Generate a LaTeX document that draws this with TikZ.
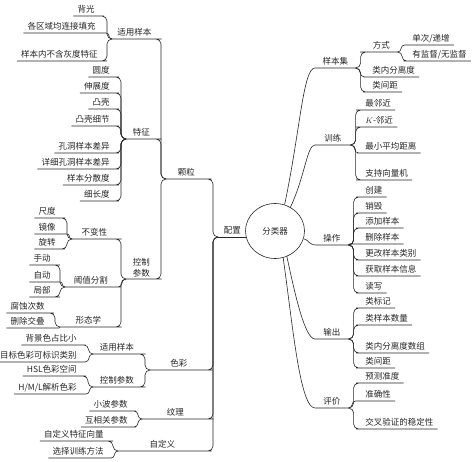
\documentclass[tikz,border=0pt]{standalone}
\usepackage{fontspec}
\newfontfamily\cjk{Noto Sans CJK SC}
\usetikzlibrary{calc,shapes.geometric}
\begin{document}
\begin{tikzpicture}[x=1pt,y=-1pt,line width=0.6pt,color=black!85,
  font=\cjk\fontsize{8.5}{10.5}\selectfont,
  nd/.style={inner xsep=4pt,inner ysep=1.5pt},
  ln/.style={nd,text height=7pt,text depth=1.5pt},
  lf/.style={ln,anchor=south east},
  rf/.style={ln,anchor=south west},
  hub/.style={ln,anchor=south west,minimum width=#1},
  tol/.style={to path={let \p1=(\tikztostart),\p2=(\tikztotarget),
    \n1={min(5pt,abs(\y2-(\y1))/2)} in
    [rounded corners=\n1] -- (\x1-\n1,\y1) -- (\x1-\n1,\y2) -- (\tikztotarget)}},
  tor/.style={to path={let \p1=(\tikztostart),\p2=(\tikztotarget),
    \n1={min(5pt,abs(\y2-(\y1))/2)} in
    [rounded corners=\n1] -- (\x1+\n1,\y1) -- (\x1+\n1,\y2) -- (\tikztotarget)}}]
  \useasboundingbox (0,0) rectangle (474,462);

  % centre
  \node[ellipse,draw,minimum width=59,minimum height=55,inner sep=0] (fenlei) at (275,231) {分类器};
  \node[hub=28] (peizhi) at (218,237) {配置};

  % left: 颗粒
  \node[hub=40] (keli) at (166,179) {颗粒};
  \node[hub=44] (kl-syyb) at (112,39) {适用样本};
  \node[lf] (kl-bg) at (99,16) {背光};
  \node[lf] (kl-qy) at (100,33) {各区域均连接填充};
  \node[lf] (kl-hd) at (102,61) {样本内不含灰度特征};
  \node[hub=30] (tz) at (126,139) {特征};
  \node[lf] (tz-yd) at (114,77) {圆度};
  \node[lf] (tz-szd) at (114,93) {伸展度};
  \node[lf] (tz-tk) at (114,109) {凸壳};
  \node[lf] (tz-tkxj) at (114,126) {凸壳细节};
  \node[lf] (tz-kd) at (114,153) {孔洞样本差异};
  \node[lf] (tz-xxkd) at (114,169) {详细孔洞样本差异};
  \node[lf] (tz-fsd) at (114,185) {样本分散度};
  \node[lf] (tz-xcd) at (114,201) {细长度};
  \node[nd,align=center,anchor=south west,minimum width=30] (kzcs) at (126,279) {控制\\参数};
  \node[hub=44] (bbx) at (72,239) {不变性};
  \node[lf] (bbx-cd) at (60,218) {尺度};
  \node[lf] (bbx-jx) at (60,234) {镜像};
  \node[lf] (bbx-xz) at (60,249) {旋转};
  \node[hub=51] (yzfg) at (65,287) {阈值分割};
  \node[lf] (yz-sd) at (55,265) {手动};
  \node[lf] (yz-zd) at (55,282) {自动};
  \node[lf] (yz-jb) at (55,297) {局部};
  \node[hub=56] (xtx) at (60,327) {形态学};
  \node[lf] (xt-fs) at (49,313) {腐蚀次数};
  \node[lf] (xt-sc) at (49,328) {删除交叠};

  % left: 色彩, 纹理, 自定义
  \node[hub=57] (secai) at (150,370) {色彩};
  \node[hub=47] (sc-syyb) at (93,354) {适用样本};
  \node[lf] (sc-bj) at (81,345) {背景色占比小};
  \node[lf] (sc-mb) at (81,362) {目标色彩可标识类别};
  \node[hub=47] (sc-kzcs) at (93,387) {控制参数};
  \node[lf] (sc-hsl) at (81,376) {HSL色彩空间};
  \node[lf] (sc-hml) at (81,394) {H/M/L解析色彩};
  \node[hub=66] (wenli) at (142,419) {纹理};
  \node[lf] (wl-xb) at (132,411) {小波参数};
  \node[lf] (wl-hx) at (132,427) {互相关参数};
  \node[hub=88] (zdy) at (118,451) {自定义};
  \node[lf] (zd-tz) at (108,441) {自定义特征向量};
  \node[lf] (zd-xz) at (108,458) {选择训练方法};

  % right
  \node[hub=40] (ybj) at (315,68) {样本集};
  \node[hub=32] (fs) at (365,52) {方式};
  \node[rf] (fs-dc) at (408,45) {单次/递增};
  \node[rf] (fs-jd) at (408,61) {有监督/无监督};
  \node[rf] (ybj-nf) at (368,77) {类内分离度};
  \node[rf] (ybj-jj) at (368,92) {类间距};
  \node[hub=35] (xl) at (315,145) {训练};
  \node[rf] (xl-zlj) at (361,110) {最邻近};
  \node[rf] (xl-klj) at (361,127) {$K$-邻近};
  \node[rf] (xl-pj) at (361,153) {最小平均距离};
  \node[rf] (xl-svm) at (361,180) {支持向量机};
  \node[hub=33] (cz) at (315,245) {操作};
  \node[rf] (cz-cj) at (361,197) {创建};
  \node[rf] (cz-xh) at (361,213) {销毁};
  \node[rf] (cz-tj) at (361,228) {添加样本};
  \node[rf] (cz-sc) at (361,244) {删除样本};
  \node[rf] (cz-gg) at (361,260) {更改样本类别};
  \node[rf] (cz-hq) at (361,276) {获取样本信息};
  \node[rf] (cz-dx) at (361,293) {读写};
  \node[hub=33] (shuchu) at (315,339) {输出};
  \node[rf] (out-bj) at (361,308) {类标记};
  \node[rf] (out-sl) at (361,325) {类样本数量};
  \node[rf] (out-fl) at (361,353) {类内分离度数组};
  \node[rf] (out-jj) at (361,368) {类间距};
  \node[hub=33] (pingjia) at (315,408) {评价};
  \node[rf] (pj-zd) at (361,383) {预测准度};
  \node[rf] (pj-zq) at (361,401) {准确性};
  \node[rf] (pj-wd) at (361,429) {交叉验证的稳定性};

  % connectors, left
  \draw (peizhi.south west) -- (peizhi.south east);
  \foreach \c in {keli,secai,wenli,zdy}
    \draw (peizhi.south west) to[tol] (\c.south east) -- (\c.south west);
  \foreach \c in {kl-syyb,tz,kzcs}
    \draw (keli.south west) to[tol] (\c.south east) -- (\c.south west);
  \foreach \c in {kl-bg,kl-qy,kl-hd}
    \draw (kl-syyb.south west) to[tol] (\c.south east) -- (\c.south west);
  \foreach \c in {tz-yd,tz-szd,tz-tk,tz-tkxj,tz-kd,tz-xxkd,tz-fsd,tz-xcd}
    \draw (tz.south west) to[tol] (\c.south east) -- (\c.south west);
  \foreach \c in {bbx,yzfg,xtx}
    \draw (kzcs.south west) to[tol] (\c.south east) -- (\c.south west);
  \foreach \c in {bbx-cd,bbx-jx,bbx-xz}
    \draw (bbx.south west) to[tol] (\c.south east) -- (\c.south west);
  \foreach \c in {yz-sd,yz-zd,yz-jb}
    \draw (yzfg.south west) to[tol] (\c.south east) -- (\c.south west);
  \foreach \c in {xt-fs,xt-sc}
    \draw (xtx.south west) to[tol] (\c.south east) -- (\c.south west);
  \foreach \c in {sc-syyb,sc-kzcs}
    \draw (secai.south west) to[tol] (\c.south east) -- (\c.south west);
  \foreach \c in {sc-bj,sc-mb}
    \draw (sc-syyb.south west) to[tol] (\c.south east) -- (\c.south west);
  \foreach \c in {sc-hsl,sc-hml}
    \draw (sc-kzcs.south west) to[tol] (\c.south east) -- (\c.south west);
  \foreach \c in {wl-xb,wl-hx}
    \draw (wenli.south west) to[tol] (\c.south east) -- (\c.south west);
  \foreach \c in {zd-tz,zd-xz}
    \draw (zdy.south west) to[tol] (\c.south east) -- (\c.south west);

  % connectors, right
  \draw (fenlei.70) .. controls +(78:75pt) and +(-12,0) .. (ybj.south west) -- (ybj.south east);
  \draw (fenlei.57) .. controls +(65:35pt) and +(-8,0) .. (xl.south west) -- (xl.south east);
  \draw (fenlei.-15) to[out=-15,in=180] (cz.south west) -- (cz.south east);
  \draw (fenlei.-65) .. controls +(-78:40pt) and +(-10,0) .. (shuchu.south west) -- (shuchu.south east);
  \draw (fenlei.-73) .. controls +(-82:70pt) and +(-15,0) .. (pingjia.south west) -- (pingjia.south east);
  \foreach \c in {fs,ybj-nf,ybj-jj}
    \draw (ybj.south east) to[tor] (\c.south west) -- (\c.south east);
  \foreach \c in {fs-dc,fs-jd}
    \draw (fs.south east) to[tor] (\c.south west) -- (\c.south east);
  \foreach \c in {xl-zlj,xl-klj,xl-pj,xl-svm}
    \draw (xl.south east) to[tor] (\c.south west) -- (\c.south east);
  \foreach \c in {cz-cj,cz-xh,cz-tj,cz-sc,cz-gg,cz-hq,cz-dx}
    \draw (cz.south east) to[tor] (\c.south west) -- (\c.south east);
  \foreach \c in {out-bj,out-sl,out-fl,out-jj}
    \draw (shuchu.south east) to[tor] (\c.south west) -- (\c.south east);
  \foreach \c in {pj-zd,pj-zq,pj-wd}
    \draw (pingjia.south east) to[tor] (\c.south west) -- (\c.south east);
\end{tikzpicture}
\end{document}
